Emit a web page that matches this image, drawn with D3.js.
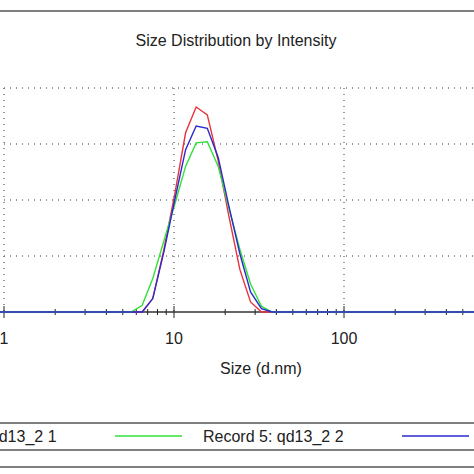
<!DOCTYPE html>
<html><head><meta charset="utf-8">
<script src="https://cdn.jsdelivr.net/npm/d3@7"></script>
<style>body{margin:0;background:#fff}svg{display:block;font-family:"Liberation Sans",Arial,sans-serif}</style>
</head><body><svg id="c" width="474" height="474"></svg>
<script>
const sizes = [0.4, 1, 3, 5.6, 6.5, 7.5, 8.7, 10.1, 11.7, 13.5, 15.7, 18.2, 21.0, 24.4, 28.2, 32.7, 37.8, 43.8, 100, 1000, 10000];
const red   = [0, 0, 0, 0, 0, 1.2, 5.5, 10.5, 16.0, 18.3, 17.6, 13.5, 8.6, 3.8, 0.9, 0, 0, 0, 0, 0, 0];
const green = [0, 0, 0, 0, 0.6, 3.0, 6.3, 9.6, 13.0, 15.1, 15.2, 13.0, 9.3, 5.6, 2.5, 0.5, 0, 0, 0, 0, 0];
const blue  = [0, 0, 0, 0, 0, 1.2, 5.3, 10.0, 14.5, 16.6, 16.4, 13.8, 9.5, 5.2, 1.8, 0.3, 0, 0, 0, 0, 0];
const seriesNames = ["Record 4: qd13_2 1", "Record 5: qd13_2 2", "Record 6: qd13_2 3"];
const xTicks = [1, 10, 100, 1000];
const xLabels = [1, 10, 100];
const yGrid = [5, 10, 15, 20];

const svg = d3.select("#c");
const x = d3.scaleLog().domain([1, 1000]).range([4, 514]);
const y = d3.scaleLinear().domain([0, 20]).range([312, 88]);
const FS = 16;

svg.append("line").attr("x1",0).attr("x2",474).attr("y1",11).attr("y2",11).attr("stroke","#555").attr("stroke-width",1.5);
svg.append("text").attr("x",236).attr("y",46).attr("text-anchor","middle").attr("font-size",FS).attr("fill","#222").text("Size Distribution by Intensity");

const g = svg.append("g");
yGrid.forEach(v => g.append("line").attr("x1",4).attr("x2",474).attr("y1",y(v)).attr("y2",y(v))
  .attr("stroke","#333").attr("stroke-dasharray","1,5"));
xTicks.forEach(v => g.append("line").attr("x1",x(v)).attr("x2",x(v)).attr("y1",88).attr("y2",312)
  .attr("stroke","#333").attr("stroke-dasharray","1,5"));

g.append("line").attr("x1",4).attr("x2",474).attr("y1",312).attr("y2",312).attr("stroke","#333").attr("stroke-width",1.5);
const minor = [];
for (let d of [1,10,100]) for (let k=1;k<10;k++) minor.push(d*k);
minor.push(1000);
minor.forEach(v => { const major=[1,10,100,1000].includes(v);
  g.append("line").attr("x1",x(v)).attr("x2",x(v)).attr("y1",major?306:309).attr("y2",major?318:315)
  .attr("stroke","#222").attr("stroke-width",1); });

const line = d3.line().x((d,i)=>x(sizes[i])).y(d=>y(d));
[[red,"#e8333a"],[green,"#33e03a"],[blue,"#2a2ad0"]].forEach(([s,c]) =>
  g.append("path").datum(s).attr("d",line).attr("fill","none").attr("stroke",c).attr("stroke-width",1.4));

xLabels.forEach(v => svg.append("text").attr("x",x(v)).attr("y",344).attr("text-anchor","middle").attr("font-size",FS).attr("fill","#222").text(d3.format("d")(v)));
svg.append("text").attr("x",261).attr("y",374).attr("text-anchor","middle").attr("font-size",FS).attr("fill","#222").text("Size (d.nm)");

[423,450,467].forEach(yy => svg.append("line").attr("x1",0).attr("x2",474).attr("y1",yy).attr("y2",yy).attr("stroke","#555").attr("stroke-width",1.5));
const leg = [[seriesNames[0],"#e8333a",-84],[seriesNames[1],"#33e03a",203],[seriesNames[2],"#2a2ad0",490]];
leg.forEach(([t,c,tx]) => {
  svg.append("line").attr("x1",tx-88).attr("x2",tx-21).attr("y1",436).attr("y2",436).attr("stroke",c).attr("stroke-width",1.5);
  svg.append("text").attr("x",tx).attr("y",442).attr("font-size",FS).attr("fill","#222").text(t);
});
</script></body></html>
